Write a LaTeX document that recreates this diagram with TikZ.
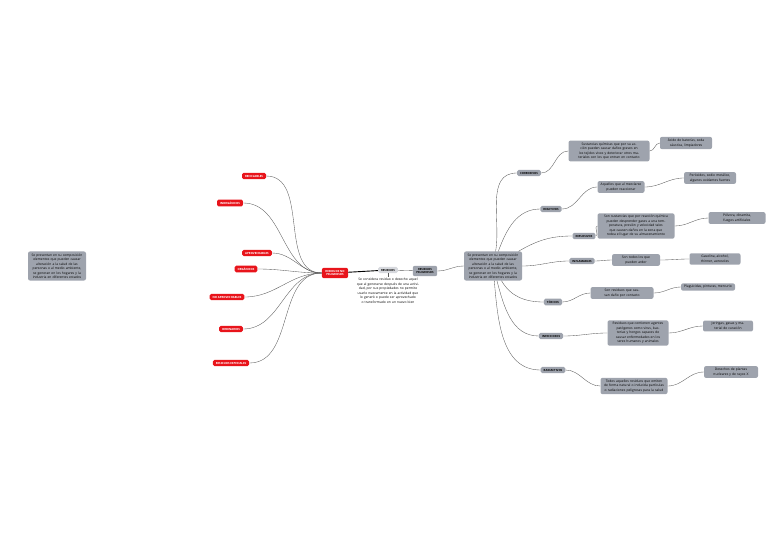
\documentclass[tikz,border=0pt]{standalone}
\usepackage{fontspec}
\setmainfont{Open Sans}
\usepackage{tikz}
\usetikzlibrary{calc,positioning}
\definecolor{mapred}{HTML}{E8141B}
\definecolor{mapgray}{HTML}{9EA3AD}
\definecolor{maplight}{HTML}{D6D8DD}
\newcommand{\mapfont}{\fontsize{3.3}{4.5}\selectfont}
\newcommand{\tagfont}{\fontsize{2.8}{3.4}\selectfont\bfseries}
\tikzstyle{topic} = [fill=mapgray,rounded corners=2pt,inner sep=2pt,align=center,font=\mapfont]
\tikzstyle{redtag} = [fill=mapred,text=white,rounded corners=1.5pt,inner xsep=3pt,inner ysep=2pt,font=\tagfont]
\tikzstyle{graytag} = [fill=mapgray,text=black,rounded corners=1.5pt,inner xsep=3pt,inner ysep=2pt,font=\tagfont]
\tikzstyle{hub} = [rounded corners=2pt,inner xsep=3.5pt,inner ysep=2.5pt,align=center,font=\tagfont]
\tikzset{link/.style={draw=black!65,line width=0.35pt}}

\begin{document}
\begin{tikzpicture}[x=1pt,y=-1pt]
\useasboundingbox (0,0) rectangle (768,543);

\node[topic, text width=54pt] (note) at (57,266) {Se presentan en su composición elementos que pueden causar alteración a la salud de las personas o al medio ambiente, se generan en los hogares y la industria en diferentes estados};

\node[hub, fill=mapred, text=white] (np) at (335,273) {RESIDUOS NO\\PELIGROSOS};
\node[graytag, fill=maplight] (res) at (388,270) {RESIDUOS};
\node[hub, fill=mapgray] (p) at (425,271) {RESIDUOS\\PELIGROSOS};
\node[align=center, font=\mapfont, text width=64pt, below=4pt of res, inner sep=1pt] (def) {Se considera residuo o desecho aquel que al generarse después de una actividad, por sus propiedades no permite usarlo nuevamente en la actividad que lo generó o puede ser aprovechado o transformado en un nuevo bien};
\node[topic, text width=54pt] (m) at (493,266) {Se presentan en su composición elementos que pueden causar alteración a la salud de las personas o al medio ambiente, se generan en los hogares y la industria en diferentes estados};

% no peligrosos
\node[redtag] (r1) at (254,176) {RECICLABLES};
\node[redtag] (r2) at (230,203) {INORGÁNICOS};
\node[redtag] (r3) at (257,253) {APROVECHABLES};
\node[redtag] (r4) at (246,269) {ORGÁNICOS};
\node[redtag] (r5) at (227,297) {NO APROVECHABLES};
\node[redtag] (r6) at (231,329) {ORDINARIOS};
\node[redtag] (r7) at (231,363) {RESIDUOS ESPECIALES};

% peligrosos
\node[graytag] (c1) at (529,173) {CORROSIVOS};
\node[graytag] (c2) at (551,209) {REACTIVOS};
\node[graytag] (c3) at (584,236) {EXPLOSIVOS};
\node[graytag] (c4) at (582,261) {INFLAMABLES};
\node[graytag] (c5) at (553,302) {TÓXICOS};
\node[graytag] (c6) at (551,336) {INFECCIOSOS};
\node[graytag] (c7) at (553,370) {RADIACTIVOS};

\node[topic, text width=77pt] (d1) at (609,151) {Sustancias químicas que por su acción pueden causar daños graves en los tejidos vivos y deteriorar otros materiales con los que entran en contacto};
\node[topic, text width=43pt] (d2) at (621,187) {Aquellos que al mezclarse pueden reaccionar};
\node[topic, text width=73pt] (d3) at (636,226) {Son sustancias que por reacción química pueden desprender gases a una temperatura, presión y velocidad tales que causen daños en la zona que rodea el lugar de su almacenamiento};
\node[topic, text width=44pt] (d4) at (636,260) {Son todos los que pueden arder};
\node[topic, text width=59pt] (d5) at (622,293) {Son residuos que causan daño por contacto};
\node[topic, text width=57pt] (d6) at (638,333) {Residuos que contienen agentes patógenos como virus, bacterias y hongos capaces de causar enfermedades en los seres humanos y animales};
\node[topic, text width=63pt] (d7) at (634,386) {Todos aquellos residuos que emiten de forma natural o inducida partículas o radiaciones peligrosas para la salud};

\node[topic, text width=48pt] (e1) at (686,143) {Ácido de baterías, soda cáustica, limpiadores};
\node[topic, text width=48pt] (e2) at (710,178) {Peróxidos, sodio metálico, algunos oxidantes fuertes};
\node[topic, text width=53pt] (e3) at (737,218) {Pólvora, dinamita, fuegos artificiales};
\node[topic, text width=47pt] (e4) at (715,259) {Gasolina, alcohol, thinner, aerosoles};
\node[topic, text width=50pt] (e5) at (708,287) {Plaguicidas, pinturas, mercurio};
\node[topic, text width=46pt] (e6) at (728,326) {Jeringas, gasas y material de curación};
\node[topic, text width=50pt] (e7) at (731,372) {Desechos de plantas nucleares y de rayos X};

\draw[line width=0.9pt] (np) -- (res);
\draw[link] (res) -- (p);
\draw[link] (res) -- (def);
\draw[link] (p) to[out=0,in=180] (m);

\draw[link] (np.west) to[out=180,in=0] (r1.east);
\draw[link] (np.west) to[out=180,in=0] (r2.east);
\draw[link] (np.west) to[out=180,in=0] (r3.east);
\draw[link] (np.west) to[out=180,in=0] (r4.east);
\draw[link] (np.west) to[out=180,in=0] (r5.east);
\draw[link] (np.west) to[out=180,in=0] (r6.east);
\draw[link] (np.west) to[out=180,in=0] (r7.east);

\draw[link] (m) to[out=80,in=180] (c1);
\draw[link] (m) to[out=70,in=180] (c2);
\draw[link] (m) to[out=30,in=180] (c3);
\draw[link] (m) to[out=0,in=180] (c4);
\draw[link] (m) to[out=-60,in=180] (c5);
\draw[link] (m) to[out=-75,in=180] (c6);
\draw[link] (m) to[out=-85,in=180] (c7);

\draw[link] (c1) to[out=0,in=180] (d1);
\draw[link] (c2) to[out=0,in=180] (d2);
\draw[link] (c3) to[out=0,in=180] (d3);
\draw[link] (c4) to[out=0,in=180] (d4);
\draw[link] (c5) to[out=0,in=180] (d5);
\draw[link] (c6) to[out=0,in=180] (d6);
\draw[link] (c7) to[out=0,in=180] (d7);

\draw[link] (d1) to[out=0,in=180] (e1);
\draw[link] (d2) to[out=0,in=180] (e2);
\draw[link] (d3) to[out=0,in=180] (e3);
\draw[link] (d4) to[out=0,in=180] (e4);
\draw[link] (d5) to[out=0,in=180] (e5);
\draw[link] (d6) to[out=0,in=180] (e6);
\draw[link] (d7) to[out=0,in=180] (e7);
\end{tikzpicture}
\end{document}
